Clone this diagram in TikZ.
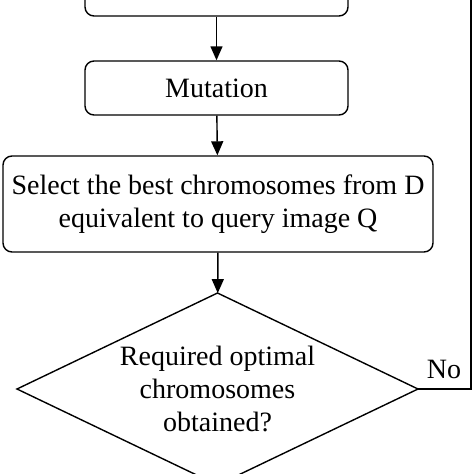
\documentclass[tikz,border=0pt]{standalone}
\usepackage{fontspec}
\setmainfont{Liberation Serif}
\usetikzlibrary{shapes.geometric,arrows.meta}
\begin{document}
\begin{tikzpicture}[x=1pt,y=-1pt,
  every node/.style={font=\fontsize{28}{33}\selectfont},
  stepbox/.style={draw,line width=1.4pt,rounded corners=9pt,inner sep=0pt,align=center},
  decision/.style={draw,line width=1.4pt,diamond,inner sep=0pt,outer sep=0pt,align=center,shape aspect=2.09,minimum width=401pt,minimum height=192pt},
  flow/.style={line width=1.4pt,-{Triangle[length=14pt,width=12pt]}},
  link/.style={line width=1.4pt}]
\useasboundingbox (0,0) rectangle (474,474);
\node[stepbox,minimum width=263pt,minimum height=54pt] (top) at (216.5,-11) {};
\node[stepbox,minimum width=263pt,minimum height=54pt] (mut) at (216.5,88) {Mutation};
\node[stepbox,minimum width=430pt,minimum height=96pt] (sel) at (218,204) {Select the best chromosomes from D\\equivalent to query image Q};
\node[decision] (dec) at (217.5,389) {Required optimal\\chromosomes\\obtained?};
\coordinate (corner) at (471,389);
\coordinate (up) at (471,-10);
\draw[flow] (top) -- (mut);
\draw[flow] (mut) -- (sel);
\draw[flow] (sel) -- (dec);
\draw[link] (dec.east) -- (corner) -- (up);
\node[anchor=base] (no) at (444,378) {No};
\end{tikzpicture}
\end{document}
